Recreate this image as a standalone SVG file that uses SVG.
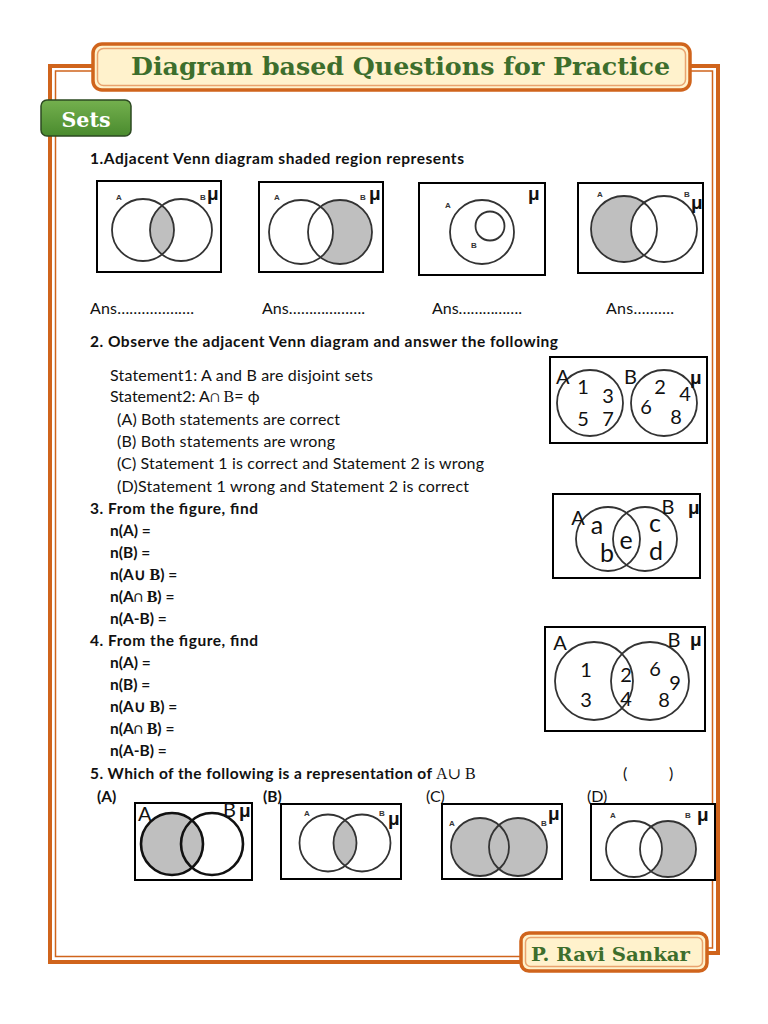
<svg xmlns="http://www.w3.org/2000/svg" width="768" height="1024" viewBox="0 0 768 1024">
<defs>
<linearGradient id="gsets" x1="0" y1="0" x2="0" y2="1">
<stop offset="0" stop-color="#74B04E"/><stop offset="1" stop-color="#4A8B2E"/>
</linearGradient>
<style>
.fr{fill:none;stroke:#D0641C;stroke-width:4}
.fri{fill:none;stroke:#D0641C;stroke-width:1.5}
.tb{fill:#FFF2CC;stroke:#D0641C;stroke-width:3.5}
.tbi{fill:none;stroke:#E9A36E;stroke-width:1.5}
.ttl{font-family:"DejaVu Serif","Liberation Serif",serif;font-weight:bold;fill:#3D6E2C}
.box{fill:#fff;stroke:#000;stroke-width:2}
.c{fill:none;stroke:#333;stroke-width:1.8}
.ck{fill:none;stroke:#111;stroke-width:2.6}
.sh{fill:#BFBFBF}
.wh{fill:#fff}
.t{font-family:Lato,"Open Sans","Liberation Sans",sans-serif;font-size:16px;fill:#111}
.b{font-weight:bold;font-size:15.5px}
.m{font-family:"Liberation Serif","DejaVu Serif",serif;font-size:16px}
.sl{font-family:"Liberation Sans",sans-serif;font-size:8px;font-weight:bold;fill:#333}
.mu{font-family:"Liberation Sans",sans-serif;font-size:19px;font-weight:bold;fill:#111}
.big{font-family:Lato,"Open Sans","Liberation Sans",sans-serif;font-size:20px;fill:#111}
.let{font-family:Lato,"Open Sans","Liberation Sans",sans-serif;font-size:25px;fill:#111}
</style>
</defs>
<rect width="768" height="1024" fill="#fff"/>

<g id="frame">
<path class="fr" d="M93,66 H50 V962 H521"/>
<path class="fri" d="M93,71 H55.5 V956.5 H521"/>
<path class="fr" d="M690,66 H718 V953 H707"/>
<path class="fri" d="M690,71 H712.5 V948 H707"/>
</g>

<g id="title">
<rect class="tb" x="93" y="44" width="597" height="46" rx="9"/>
<rect class="tbi" x="97.5" y="48.5" width="588" height="37" rx="6"/>
<text class="ttl" x="131" y="75" font-size="25" textLength="539" lengthAdjust="spacingAndGlyphs">Diagram based Questions for Practice</text>
</g>

<g id="sets">
<rect x="41" y="100" width="90" height="36" rx="6" fill="url(#gsets)" stroke="#2D4A22" stroke-width="1.5"/>
<text x="86" y="127" text-anchor="middle" font-family="DejaVu Serif,Liberation Serif,serif" font-weight="bold" font-size="20" fill="#fff" textLength="49" lengthAdjust="spacingAndGlyphs">Sets</text>
</g>

<g id="footer">
<rect class="tb" x="521" y="933" width="186" height="38" rx="8"/>
<rect class="tbi" x="525.5" y="937.5" width="177" height="29" rx="5"/>
<text class="ttl" x="531" y="961" font-size="19" textLength="159" lengthAdjust="spacingAndGlyphs">P. Ravi Sankar</text>
</g>

<!-- Question 1 -->
<text class="t b" x="90" y="164" textLength="374" lengthAdjust="spacing">1.Adjacent Venn diagram shaded region represents</text>

<g id="q1a">
<rect class="box" x="97" y="181" width="124" height="91"/>
<path class="sh" d="M162,205.5 A31,31 0 0 1 162,254.5 A31,31 0 0 1 162,205.5Z"/>
<circle class="c" cx="143" cy="230" r="31"/>
<circle class="c" cx="181" cy="230" r="31"/>
<text class="sl" x="116" y="200">A</text>
<text class="sl" x="200" y="200">B</text>
<text class="mu" x="207" y="200">μ</text>
</g>

<g id="q1b">
<rect class="box" x="259" y="182" width="124" height="90"/>
<circle class="sh" cx="340" cy="232" r="32"/>
<circle class="wh" cx="301" cy="232" r="32"/>
<circle class="c" cx="301" cy="232" r="32"/>
<circle class="c" cx="340" cy="232" r="32"/>
<text class="sl" x="274" y="200">A</text>
<text class="sl" x="360" y="200">B</text>
<text class="mu" x="369" y="200">μ</text>
</g>

<g id="q1c">
<rect class="box" x="419" y="183" width="126" height="92"/>
<circle class="c" cx="482" cy="232" r="32"/>
<circle class="c" cx="490" cy="226" r="14.5"/>
<text class="sl" x="445" y="208">A</text>
<text class="sl" x="471" y="248">B</text>
<text class="mu" x="528" y="200">μ</text>
</g>

<g id="q1d">
<rect class="box" x="578" y="183" width="125" height="90"/>
<circle class="sh" cx="624" cy="229" r="33"/>
<circle class="wh" cx="664" cy="229" r="33"/>
<circle class="c" cx="624" cy="229" r="33"/>
<circle class="c" cx="664" cy="229" r="33"/>
<text class="sl" x="597" y="197">A</text>
<text class="sl" x="684" y="197">B</text>
<text class="mu" x="691" y="209">μ</text>
</g>

<text class="t" x="90" y="314" textLength="104" lengthAdjust="spacing">Ans……………….</text>
<text class="t" x="262" y="314" textLength="103" lengthAdjust="spacing">Ans……………….</text>
<text class="t" x="432" y="314" textLength="90" lengthAdjust="spacing">Ans…………….</text>
<text class="t" x="606" y="314" textLength="68" lengthAdjust="spacing">Ans……….</text>

<!-- Question 2 -->
<text class="t b" x="90" y="347" textLength="468" lengthAdjust="spacing">2. Observe the adjacent Venn diagram and answer the following</text>
<text class="t" x="110" y="381" textLength="263" lengthAdjust="spacing">Statement1: A and B are disjoint sets</text>
<text class="t" x="110" y="402">Statement2: A∩ <tspan class="m">B</tspan>= ϕ</text>
<text class="t" x="117" y="425" textLength="223" lengthAdjust="spacing">(A) Both statements are correct</text>
<text class="t" x="117" y="447" textLength="218" lengthAdjust="spacing">(B) Both statements are wrong</text>
<text class="t" x="117" y="469" textLength="367" lengthAdjust="spacing">(C) Statement 1 is correct and Statement 2 is wrong</text>
<text class="t" x="117" y="492" textLength="352" lengthAdjust="spacing">(D)Statement 1 wrong and Statement 2 is correct</text>

<g id="q2">
<rect class="box" x="550" y="357" width="157" height="86"/>
<circle class="c" cx="590" cy="403" r="33"/>
<circle class="c" cx="664" cy="403" r="33"/>
<text class="big" x="556" y="384" font-size="19">A</text>
<text class="big" x="624" y="384" font-size="19">B</text>
<text class="mu" x="690" y="384" font-size="18">μ</text>
<text class="big" x="583" y="394" text-anchor="middle">1</text>
<text class="big" x="608" y="403" text-anchor="middle">3</text>
<text class="big" x="583" y="426" text-anchor="middle">5</text>
<text class="big" x="608" y="426" text-anchor="middle">7</text>
<text class="big" x="660" y="394" text-anchor="middle">2</text>
<text class="big" x="685" y="401" text-anchor="middle">4</text>
<text class="big" x="646" y="414" text-anchor="middle">6</text>
<text class="big" x="676" y="424" text-anchor="middle">8</text>
</g>

<!-- Question 3 -->
<text class="t b" x="90" y="514" textLength="168" lengthAdjust="spacing">3. From the figure, find</text>
<text class="t b" x="110" y="536">n(A) =</text>
<text class="t b" x="110" y="558">n(B) =</text>
<text class="t b" x="110" y="580">n(A∪ <tspan class="m">B</tspan>) =</text>
<text class="t b" x="110" y="602">n(A∩ <tspan class="m">B</tspan>) =</text>
<text class="t b" x="110" y="624">n(A-B) =</text>

<g id="q3">
<rect class="box" x="553" y="494" width="147" height="84"/>
<circle class="c" cx="608" cy="539" r="32"/>
<circle class="c" cx="645" cy="539" r="32"/>
<text class="big" x="578" y="525" text-anchor="middle">A</text>
<text class="big" x="668" y="514" text-anchor="middle">B</text>
<text class="mu" x="688" y="514" font-size="18">μ</text>
<text class="let" x="597" y="534" text-anchor="middle">a</text>
<text class="let" x="626" y="549" text-anchor="middle">e</text>
<text class="let" x="655" y="532" text-anchor="middle">c</text>
<text class="let" x="607" y="562" text-anchor="middle">b</text>
<text class="let" x="656" y="560" text-anchor="middle">d</text>
</g>

<!-- Question 4 -->
<text class="t b" x="90" y="646" textLength="168" lengthAdjust="spacing">4. From the figure, find</text>
<text class="t b" x="110" y="668">n(A) =</text>
<text class="t b" x="110" y="690">n(B) =</text>
<text class="t b" x="110" y="712">n(A∪ <tspan class="m">B</tspan>) =</text>
<text class="t b" x="110" y="734">n(A∩ <tspan class="m">B</tspan>) =</text>
<text class="t b" x="110" y="756">n(A-B) =</text>

<g id="q4">
<rect class="box" x="545" y="627" width="160" height="104"/>
<circle class="c" cx="594" cy="681" r="39"/>
<circle class="c" cx="650" cy="681" r="39"/>
<text class="big" x="560" y="650" text-anchor="middle">A</text>
<text class="big" x="674" y="647" text-anchor="middle">B</text>
<text class="mu" x="690" y="646" font-size="18">μ</text>
<text class="big" x="586" y="677" text-anchor="middle">1</text>
<text class="big" x="586" y="707" text-anchor="middle">3</text>
<text class="big" x="626" y="682" text-anchor="middle" font-size="19">2</text>
<text class="big" x="626" y="706" text-anchor="middle" font-size="19">4</text>
<text class="big" x="655" y="676" text-anchor="middle">6</text>
<text class="big" x="675" y="690" text-anchor="middle">9</text>
<text class="big" x="664" y="707" text-anchor="middle">8</text>
</g>

<!-- Question 5 -->
<text class="t" x="90" y="779"><tspan class="b" textLength="342" lengthAdjust="spacing">5. Which of the following is a representation of</tspan><tspan class="m" x="436">A∪ B</tspan></text>
<text class="t" x="623" y="779">(</text>
<text class="t" x="669" y="779">)</text>
<text class="t b" x="97" y="802">(A)</text>
<text class="t b" x="263" y="802">(B)</text>
<text class="t" x="426" y="802">(C)</text>
<text class="t" x="587" y="802">(D)</text>

<g id="q5a">
<rect class="box" x="135" y="803" width="117" height="77"/>
<circle class="sh" cx="172" cy="844" r="31"/>
<circle class="ck" cx="172" cy="844" r="31"/>
<circle class="ck" cx="212" cy="844" r="31"/>
<text class="big" x="138" y="821" font-size="17">A</text>
<text class="big" x="223" y="817" font-size="16">B</text>
<text class="mu" x="239" y="817" font-size="17">μ</text>
</g>

<g id="q5b">
<rect class="box" x="281" y="804" width="120" height="75"/>
<path class="sh" d="M345,820.1 A28.5,28.5 0 0 1 345,865.9 A28.5,28.5 0 0 1 345,820.1Z"/>
<circle class="c" cx="328" cy="843" r="28.5" stroke-width="1.3"/>
<circle class="c" cx="362" cy="843" r="28.5" stroke-width="1.3"/>
<text class="sl" x="304" y="816">A</text>
<text class="sl" x="379" y="816">B</text>
<text class="mu" x="388" y="825">μ</text>
</g>

<g id="q5c">
<rect class="box" x="442" y="804" width="120" height="75"/>
<circle class="sh" cx="480" cy="847" r="29"/>
<circle class="sh" cx="518" cy="847" r="29"/>
<circle class="c" cx="480" cy="847" r="29" stroke-width="1.3"/>
<circle class="c" cx="518" cy="847" r="29" stroke-width="1.3"/>
<text class="sl" x="449" y="826">A</text>
<text class="sl" x="541" y="826">B</text>
<text class="mu" x="548" y="820">μ</text>
</g>

<g id="q5d">
<rect class="box" x="591" y="804" width="124" height="76"/>
<circle class="sh" cx="668" cy="849" r="28"/>
<circle class="wh" cx="634" cy="849" r="28"/>
<circle class="c" cx="634" cy="849" r="28" stroke-width="1.5"/>
<circle class="c" cx="668" cy="849" r="28" stroke-width="1.5"/>
<text class="sl" x="610" y="818">A</text>
<text class="sl" x="685" y="818">B</text>
<text class="mu" x="697" y="821">μ</text>
</g>
</svg>
